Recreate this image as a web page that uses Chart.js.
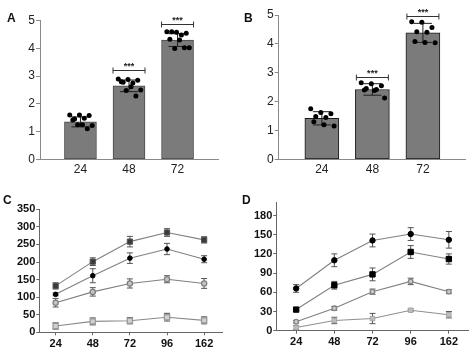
<!DOCTYPE html>
<html><head><meta charset="utf-8">
<script src="https://cdn.jsdelivr.net/npm/chart.js@4.4.0/dist/chart.umd.min.js"></script>
<style>
html,body{margin:0;padding:0;background:#fff;}
#wrap{position:relative;width:474px;height:355px;overflow:hidden;font-family:"Liberation Sans",Arial,sans-serif;}
.pane{position:absolute;}
.pane canvas{display:block;}
.lbl{position:absolute;font-weight:bold;font-size:12px;line-height:12px;color:#111;}
</style></head><body>
<div id="wrap">
  <div class="pane" style="left:0;top:0"><canvas id="cA" width="237" height="180"></canvas></div>
  <div class="pane" style="left:237px;top:0"><canvas id="cB" width="237" height="180"></canvas></div>
  <div class="pane" style="left:0;top:180px"><canvas id="cC" width="237" height="175"></canvas></div>
  <div class="pane" style="left:237px;top:180px"><canvas id="cD" width="237" height="175"></canvas></div>
  <div class="lbl" style="left:7px;top:11.5px">A</div>
  <div class="lbl" style="left:244px;top:11.5px">B</div>
  <div class="lbl" style="left:3px;top:193.5px">C</div>
  <div class="lbl" style="left:242px;top:193.5px">D</div>
</div>
<script>
// ---------- data ----------
const barHours = [24, 48, 72];
const barYTicks = [0, 1, 2, 3, 4, 5];
const sigText = '***';

const aMeans = [1.35, 2.65, 4.30];
const aSD = [0.18, 0.21, 0.23];
const aDots24 = [1.60, 1.60, 1.58, 1.45, 1.48, 1.42, 1.25, 1.22, 1.25, 1.10];
const aDots48 = [2.90, 2.88, 2.85, 2.78, 2.75, 2.80, 2.62, 2.50, 2.48, 2.28];
const aDots72 = [4.60, 4.58, 4.55, 4.60, 4.48, 4.33, 4.30, 4.02, 4.00, 4.02];
const aSigY = [null, 3.22, 4.88];

const bMeans = [1.42, 2.42, 4.38];
const bSD = [0.23, 0.20, 0.33];
const bDots24 = [1.75, 1.62, 1.58, 1.48, 1.45, 1.30, 1.20, 1.15];
const bDots48 = [2.65, 2.62, 2.55, 2.45, 2.42, 2.40, 2.38, 2.12];
const bDots72 = [4.77, 4.75, 4.57, 4.42, 4.40, 4.08, 4.05, 4.04];
const bSigY = [null, 2.86, 4.98];

const lineHours = ['24', '48', '72', '96', '162'];
const cYTicks = [0, 50, 100, 150, 200, 250, 300, 350];
const c1 = [132, 201, 258, 284, 263];  const c1Err = [9, 11, 15, 11, 9];
const c2 = [108, 161, 211, 237, 208];  const c2Err = [4, 20, 15, 16, 10];
const c3 = [84, 115, 139, 151, 139];   const c3Err = [12, 12, 13, 10, 14];
const c4 = [18, 31, 33, 43, 34];       const c4Err = [9, 10, 9, 11, 10];

const dYTicks = [0, 30, 60, 90, 120, 150, 180];
const d1 = [66, 110, 141, 151, 142];   const d1Err = [6, 10, 10, 10, 13];
const d2 = [33, 71, 88, 123, 112];     const d2Err = [2, 6, 10, 10, 8];
const d3 = [14, 35, 61, 77, 61];       const d3Err = [2, 3, 4, 5, 3];
const d4 = [5, 16, 19, 32, 25];        const d4Err = [3, 5, 8, 2, 5];

// ---------- helpers ----------
Chart.defaults.font.family = "'Liberation Sans', Arial, sans-serif";
Chart.defaults.animation = false;

function drawErr(chart, idx, phase) {
  const ds = chart.data.datasets[idx];
  if (!ds.errors || ds.errPhase !== phase) return;
  const xs = chart.scales.x, ys = chart.scales.y, ctx = chart.ctx;
  ctx.save();
  ctx.strokeStyle = ds.errColor;
  ctx.lineWidth = ds.errWidth;
  ds.data.forEach((p, i) => {
    const e = ds.errors[i];
    if (e == null) return;
    const x = xs.getPixelForValue(p.x);
    const yt = ys.getPixelForValue(p.y + e), yb = ys.getPixelForValue(p.y - e);
    const c = ds.errCap;
    ctx.beginPath();
    ctx.moveTo(x, yt); ctx.lineTo(x, yb);
    ctx.moveTo(x - c, yt); ctx.lineTo(x + c, yt);
    ctx.moveTo(x - c, yb); ctx.lineTo(x + c, yb);
    ctx.stroke();
  });
  ctx.restore();
}
const errPlugin = {
  id: 'errbars',
  beforeDatasetDraw(chart, args) { drawErr(chart, args.index, 'before'); },
  afterDatasetDraw(chart, args) { drawErr(chart, args.index, 'after'); }
};
const sigPlugin = {
  id: 'sig',
  afterDatasetsDraw(chart, args, opts) {
    if (!opts.ys) return;
    const xs = chart.scales.x, ys = chart.scales.y, ctx = chart.ctx;
    ctx.save();
    ctx.strokeStyle = '#333'; ctx.lineWidth = 1;
    ctx.fillStyle = '#222';
    ctx.font = "bold 9px 'Liberation Sans', Arial, sans-serif";
    ctx.textAlign = 'center'; ctx.textBaseline = 'alphabetic';
    opts.ys.forEach((v, i) => {
      if (v == null) return;
      const x = xs.getPixelForValue(opts.xs[i]);
      const y = Math.round(ys.getPixelForValue(v)) + 0.5;
      const h = 16;
      ctx.beginPath();
      ctx.moveTo(x - h, y); ctx.lineTo(x + h, y);
      ctx.moveTo(x - h, y - 3); ctx.lineTo(x - h, y + 3);
      ctx.moveTo(x + h, y - 3); ctx.lineTo(x + h, y + 3);
      ctx.stroke();
      ctx.fillText(opts.text, x, y - 2);
    });
    ctx.restore();
  }
};

function jitter(i) { return (((i * 7) % 5) - 2) * 2.4 + ((Math.floor(i / 5) % 2) ? 1 : -0.5); }

function barChart(id, means, sd, dots, sigY, cfg) {
  const dotData = [];
  dots.forEach((arr, j) => arr.forEach((v, i) => dotData.push({ x: barHours[j] + jitter(i), y: v })));
  return new Chart(document.getElementById(id), {
    type: 'bar',
    data: {
      datasets: [
        { type: 'scatter', data: dotData, pointRadius: 2.5, pointBackgroundColor: '#000',
          pointBorderColor: '#000', pointBorderWidth: 0, order: 0 },
        { type: 'bar', data: barHours.map((h, i) => ({ x: h, y: means[i] })),
          backgroundColor: '#7b7b7b', borderColor: cfg.barBorder, borderWidth: 1,
          barThickness: cfg.barW, borderSkipped: false, order: 1,
          errors: sd, errPhase: 'after', errColor: '#222', errWidth: 1, errCap: 9 }
      ]
    },
    options: {
      responsive: false,
      layout: { padding: cfg.pad },
      plugins: { legend: { display: false }, tooltip: { enabled: false },
        sig: { ys: sigY, xs: barHours, text: sigText } },
      scales: {
        x: { type: 'linear', min: cfg.xMin, max: cfg.xMax, offset: false,
          grid: { display: true, drawOnChartArea: false, drawTicks: false, offset: false },
          border: { color: '#8a8a8a', width: 1 },
          afterBuildTicks: s => { s.ticks = barHours.map(v => ({ value: v })); },
          afterFit: s => { s.height = cfg.xH; },
          ticks: { color: '#222', font: { size: 12 }, padding: 3, maxRotation: 0, autoSkip: false } },
        y: { type: 'linear', min: 0, max: 5,
          grid: { drawOnChartArea: false, drawTicks: true, tickLength: 4, color: '#8a8a8a' },
          border: { color: '#8a8a8a', width: 1 },
          afterBuildTicks: s => { s.ticks = barYTicks.map(v => ({ value: v })); },
          afterFit: s => { s.width = cfg.yW; },
          ticks: { color: '#222', font: { size: 12 }, padding: 1 } }
      }
    },
    plugins: [errPlugin, sigPlugin]
  });
}

function lineDs(vals, errs, st) {
  return Object.assign({
    data: vals.map((v, i) => ({ x: i, y: v })),
    borderColor: '#808080', borderWidth: 1.1, tension: 0, fill: false,
    errors: errs, errPhase: 'before', errColor: '#555', errWidth: 1, errCap: 3
  }, st);
}

function lineChart(id, sets, yTicks, cfg) {
  return new Chart(document.getElementById(id), {
    type: 'line',
    data: { datasets: sets },
    options: {
      responsive: false,
      layout: { padding: cfg.pad },
      plugins: { legend: { display: false }, tooltip: { enabled: false } },
      scales: {
        x: { type: 'linear', min: cfg.xMin, max: cfg.xMax,
          grid: { drawOnChartArea: false, drawTicks: true, tickLength: 3, color: '#666' },
          border: { color: '#666', width: 1 },
          afterBuildTicks: s => { s.ticks = lineHours.map((h, i) => ({ value: i })); },
          afterFit: s => { s.height = cfg.xH; },
          ticks: { color: '#111', font: { size: 11, weight: 'bold' }, padding: 2,
            maxRotation: 0, autoSkip: false, callback: v => lineHours[v] } },
        y: { type: 'linear', min: 0, max: cfg.yMax,
          grid: { drawOnChartArea: false, drawTicks: true, tickLength: 3, color: '#666' },
          border: { color: '#666', width: 1 },
          afterBuildTicks: s => { s.ticks = yTicks.map(v => ({ value: v })); },
          afterFit: s => { s.width = cfg.yW; },
          ticks: { color: '#111', font: { size: 11, weight: 'bold' }, padding: 1 } }
      }
    },
    plugins: [errPlugin]
  });
}

// ---------- charts ----------
barChart('cA', aMeans, aSD, [aDots24, aDots48, aDots72], aSigY,
  { pad: { top: 20.7, right: 19, left: 0, bottom: 0 }, yW: 40, xH: 20.7,
    xMin: 4, xMax: 92, barW: 32, barBorder: '#4a4a4a' });
barChart('cB', bMeans, bSD, [bDots24, bDots48, bDots72], bSigY,
  { pad: { top: 15, right: 9, left: 0, bottom: 0 }, yW: 41.7, xH: 20.7,
    xMin: 3.5, xMax: 92, barW: 34, barBorder: '#1a1a1a' });

lineChart('cC', [
  lineDs(c1, c1Err, { pointStyle: 'rect', pointRadius: 3.7, pointBackgroundColor: '#3a3a3a', pointBorderColor: '#555', pointBorderWidth: 1 }),
  lineDs(c2, c2Err, { pointStyle: 'circle', pointRadius: 2.3, pointBackgroundColor: '#000', pointBorderColor: '#000', pointBorderWidth: 1 }),
  lineDs(c3, c3Err, { pointStyle: 'circle', pointRadius: 2.6, pointBackgroundColor: '#c4c4c4', pointBorderColor: '#808080', pointBorderWidth: 1.3 }),
  lineDs(c4, c4Err, { pointStyle: 'rect', pointRadius: 3.7, pointBackgroundColor: '#d0d0d0', pointBorderColor: '#9a9a9a', pointBorderWidth: 1.3, borderColor: '#8a8a8a' })
], cYTicks, { pad: { top: 29.3, right: 14.3, left: 0, bottom: 0 }, yW: 39.3, xH: 22.7,
  xMin: -0.44, xMax: 4.5, yMax: 350 });

lineChart('cD', [
  lineDs(d1, d1Err, { pointStyle: 'circle', pointRadius: 2.7, pointBackgroundColor: '#000', pointBorderColor: '#000', pointBorderWidth: 1 }),
  lineDs(d2, d2Err, { pointStyle: 'rect', pointRadius: 3.8, pointBackgroundColor: '#000', pointBorderColor: '#000', pointBorderWidth: 1 }),
  lineDs(d3, d3Err, { pointStyle: 'circle', pointRadius: 2.3, pointBackgroundColor: '#cacaca', pointBorderColor: '#858585', pointBorderWidth: 1.3 }),
  lineDs(d4, d4Err, { pointStyle: 'rect', pointRadius: 3.2, pointBackgroundColor: '#bdbdbd', pointBorderColor: '#a5a5a5', pointBorderWidth: 1, borderColor: '#8f8f8f' })
], dYTicks, { pad: { top: 22.7, right: 4, left: 0, bottom: 0 }, yW: 39.3, xH: 24.3,
  xMin: -0.52, xMax: 4.52, yMax: 200 });
</script>
</body></html>
